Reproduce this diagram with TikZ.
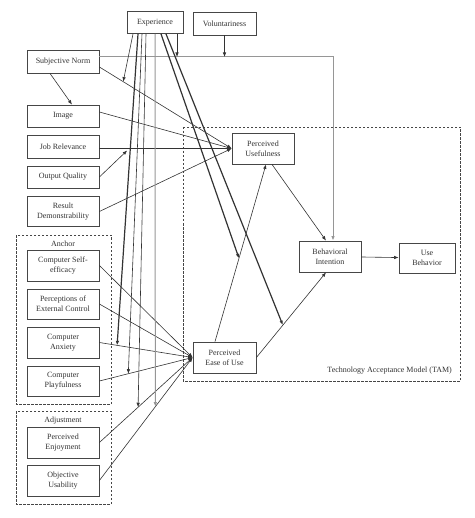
\documentclass[tikz,border=0pt]{standalone}
\usepackage{fontspec}
\setmainfont{Liberation Serif}
\usetikzlibrary{calc,arrows.meta,positioning}
\definecolor{boxColor}{RGB}{70,70,70}
\definecolor{textColor}{RGB}{50,50,50}
\definecolor{modColor}{RGB}{150,150,150}
\newcommand{\tamfont}{\fontsize{8}{10}\selectfont}

\begin{document}
\begin{tikzpicture}[x=1pt, y=-1pt,
    construct/.style={draw=boxColor, line width=0.8pt, minimum width=72pt, minimum height=23pt, inner sep=1pt, align=center, font=\tamfont, text=textColor},
    tam/.style={construct, minimum width=62pt, minimum height=31pt},
    group/.style={draw=boxColor, line width=0.7pt, dash pattern=on 2.5pt off 1.5pt},
    lbl/.style={font=\tamfont, text=textColor, inner sep=1pt},
    arr/.style={-{Latex[length=4.5pt,width=3.5pt]}, line width=0.6pt, black!80},
    exparr/.style={arr, line width=1.2pt},
    grayarr/.style={arr, modColor, line width=1pt}
  ]
  \useasboundingbox (0,0) rectangle (474,518);

  % moderators
  \node[construct, minimum width=56pt, minimum height=22pt] (exp) at (155,22.5) {Experience};
  \node[construct, minimum width=63pt] (vol) at (224.5,23.5) {Voluntariness};

  % determinants of perceived usefulness
  \node[construct] (sn) at (63,61.5) {Subjective Norm};
  \node[construct, minimum height=22pt] (img) at (63,116) {Image};
  \node[construct] (jr) at (63,146.5) {Job Relevance};
  \node[construct, minimum height=22pt] (oq) at (63,177) {Output Quality};
  \node[construct, minimum height=30pt] (rd) at (63,211.5) {Result\\Demonstrability};

  % anchor and adjustment groups
  \draw[group] (16,235) rectangle (111,404);
  \node[lbl] (anchorlbl) at (63,244) {Anchor};
  \node[construct, minimum height=31pt] (cse) at (63,265.5) {Computer Self-\\efficacy};
  \node[construct, minimum height=30pt] (pec) at (63,304) {Perceptions of\\External Control};
  \node[construct, minimum height=31pt] (ca) at (63,342.5) {Computer\\Anxiety};
  \node[construct, minimum height=30pt] (cp) at (63,381) {Computer\\Playfulness};

  \draw[group] (16,411) rectangle (111,504);
  \node[lbl] (adjlbl) at (63,421) {Adjustment};
  \node[construct, minimum height=31pt] (pe) at (63,442.5) {Perceived\\Enjoyment};
  \node[construct, minimum height=31pt] (ou) at (63,480.5) {Objective\\Usability};

  % TAM
  \draw[group] (183,127) rectangle (460,381);
  \node[lbl, anchor=east] (tamlbl) at (453,371) {Technology Acceptance Model (TAM)};
  \node[tam] (pu) at (263,148.5) {Perceived\\Usefulness};
  \node[tam] (bi) at (330,256.5) {Behavioral\\Intention};
  \node[tam, minimum width=56pt, minimum height=30pt] (ub) at (427,258) {Use\\Behavior};
  \node[tam, minimum width=63pt] (peou) at (224.5,357.5) {Perceived\\Ease of Use};

  % subjective norm to intention
  \coordinate (snbi) at ([yshift=4.5pt]sn.east);
  \draw[grayarr] (snbi) -| ([xshift=3pt]bi.north);

  % into perceived usefulness
  \draw[arr] (sn.south) ++(-13pt,0) -- ([xshift=9pt]img.north);
  \draw[arr] ([yshift=-5.5pt]sn.east) -- (pu.west);
  \draw[arr] ([yshift=4pt]img.east) -- (pu.west);
  \draw[arr] (jr.east |- pu.west) -- (pu.west);
  \draw[arr] (rd.east) -- (pu.west);
  \coordinate (mjr) at ($(jr.east |- pu.west)!0.21!(pu.west)$);
  \draw[arr] (oq.east) -- ([yshift=-2pt]mjr);

  % into perceived ease of use
  \draw[arr] (cse.east) -- (peou.west);
  \draw[arr] (pec.east) -- (peou.west);
  \draw[arr] (ca.east) -- (peou.west);
  \draw[arr] (cp.east) -- (peou.west);
  \draw[arr] (pe.east) -- (peou.west);
  \draw[arr] (ou.east) -- (peou.west);

  % core TAM paths
  \draw[arr] ([xshift=-9.5pt]peou.north) -- ([xshift=3pt]pu.south);
  \draw[arr] (peou.east) -- ([xshift=-4pt]bi.south);
  \draw[arr] ([xshift=9pt]pu.south) -- ([xshift=-4pt]bi.north);
  \draw[arr] (bi) -- (ub);

  % experience and voluntariness
  \coordinate (msnpu) at ($([yshift=-5.5pt]sn.east)!0.18!(pu.west)$);
  \coordinate (mpu) at ($([xshift=-9.5pt]peou.north)!0.47!([xshift=3pt]pu.south)$);
  \coordinate (mbi) at ($(peou.east)!0.38!([xshift=-4pt]bi.south)$);
  \coordinate (mca) at ($(ca.east)!0.19!(peou.west)$);
  \coordinate (mcp) at ($(cp.east)!0.31!(peou.west)$);
  \coordinate (mpe) at ($(pe.east)!0.415!(peou.west)$);
  \coordinate (mou) at ($(ou.east)!0.6!(peou.west)$);

  \draw[arr] ([xshift=-22pt]exp.south) -- (msnpu);
  \draw[arr] ([xshift=22pt]exp.south) -- ([xshift=22pt]exp.south |- snbi);
  \draw[arr] (vol.south) -- (vol.south |- snbi);
  \draw[exparr] ([xshift=6pt]exp.south) -- (mpu);
  \draw[exparr] ([xshift=11pt]exp.south) -- (mbi);
  \draw[exparr] ([xshift=-17pt]exp.south) -- (mca);
  \draw[arr] ([xshift=-13pt]exp.south) -- (mcp);
  \draw[arr] ([xshift=-9pt]exp.south) -- (mpe);
  \draw[grayarr] (exp.south) -- (mou);
\end{tikzpicture}
\end{document}
